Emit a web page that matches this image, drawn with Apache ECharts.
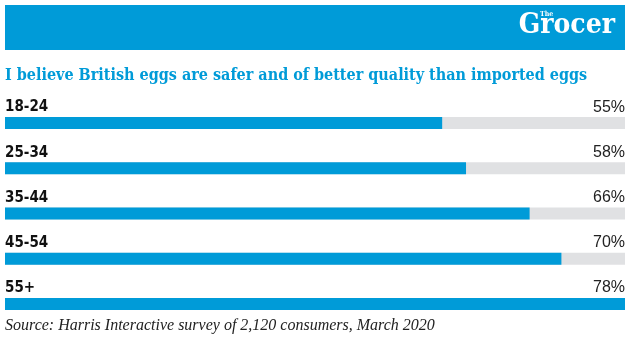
<!DOCTYPE html>
<html><head><meta charset="utf-8">
<script src="https://cdn.jsdelivr.net/npm/echarts@6/dist/echarts.min.js"></script>
<style>html,body{margin:0;padding:0;background:#fff}#c{width:630px;height:349px}</style>
</head><body><div id="c"></div>
<script>
const categories = ['18-24', '25-34', '35-44', '45-54', '55+'];
const values = [55, 58, 66, 70, 78];
const valueLabels = ['55%', '58%', '66%', '70%', '78%'];
const title = 'I believe British eggs are safer and of better quality than imported eggs';
const source = 'Source: Harris Interactive survey of 2,120 consumers, March 2020';

const BLUE = '#009bd8';
const chart = echarts.init(document.getElementById('c'));
chart.setOption({
  animation: false,
  backgroundColor: '#fff',
  graphic: [
    {type: 'rect', shape: {x: 5, y: 5, width: 620, height: 45}, style: {fill: BLUE}},
    {type: 'text', right: 15, top: 12, style: {text: 'Grocer', fill: '#fff', font: 'bold 28px "DejaVu Serif Condensed", "DejaVu Serif", serif'}},
    {type: 'text', left: 540, top: 11, style: {text: 'The', fill: '#fff', font: 'bold 7px "DejaVu Serif Condensed", serif'}},
    {type: 'text', left: 5, top: 68, style: {text: title, fill: BLUE, font: 'bold 16px "DejaVu Serif Condensed", "DejaVu Serif", serif'}},
    {type: 'text', left: 5, top: 318, style: {text: source, fill: '#222', font: 'italic 16px "Liberation Serif", serif'}}
  ],
  grid: {left: 5, right: 5, top: 100.5, bottom: 22.5, containLabel: false},
  xAxis: {type: 'value', min: 0, max: 78, show: false},
  yAxis: [
    {type: 'category', data: categories, inverse: true, axisLine: {show: false}, axisTick: {show: false},
     axisLabel: {inside: true, margin: 0, align: 'left', verticalAlign: 'bottom', padding: [0, 0, 8, 0],
       color: '#111', fontFamily: '"DejaVu Sans Condensed", "DejaVu Sans", sans-serif', fontWeight: 'bold', fontSize: 15}},
    {type: 'category', data: valueLabels, inverse: true, position: 'right', axisLine: {show: false}, axisTick: {show: false},
     axisLabel: {inside: true, margin: 0, align: 'right', verticalAlign: 'bottom', padding: [0, 0, 8, 0],
       color: '#222', fontFamily: '"Liberation Sans Narrow", "Liberation Sans", sans-serif', fontSize: 16}}
  ],
  series: [{
    type: 'bar', data: values, yAxisIndex: 0, barWidth: 12,
    itemStyle: {color: BLUE},
    showBackground: true,
    backgroundStyle: {color: '#e0e1e3'}
  }]
});
</script></body></html>
